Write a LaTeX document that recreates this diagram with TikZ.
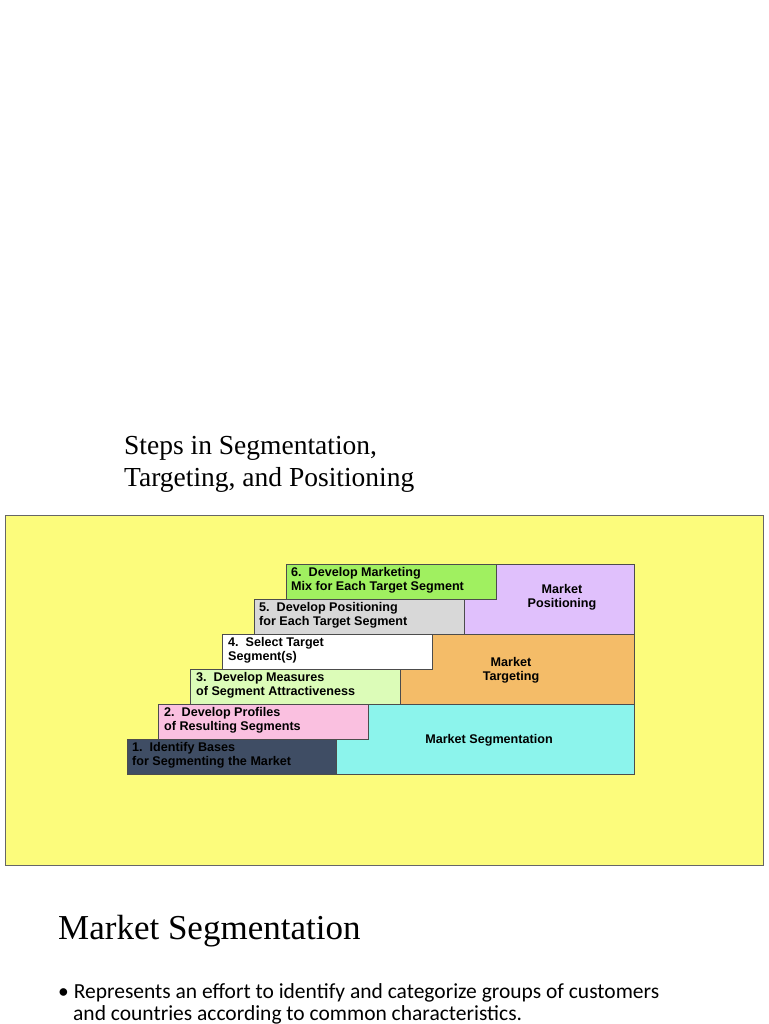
\documentclass[tikz,border=0pt]{standalone}
\usepackage{fontspec}
\newfontfamily\arialf{Liberation Sans}
\newfontfamily\timesf{Liberation Serif}
\newfontfamily\calf{Carlito}
\definecolor{yel}{HTML}{FCFC7C}
\definecolor{navy}{HTML}{3F4D64}
\definecolor{pinkc}{HTML}{FAC0E0}
\definecolor{lgreen}{HTML}{DCFCB8}
\definecolor{lgrey}{HTML}{D8D8D8}
\definecolor{gre}{HTML}{A0F060}
\definecolor{cyanc}{HTML}{8CF4EC}
\definecolor{oran}{HTML}{F4BC68}
\definecolor{lav}{HTML}{E0C0FC}
\tikzset{x=1pt,y=-1pt,
 stepbox/.style={draw=black!70,line width=0.8pt},
 steptxt/.style={font=\arialf\bfseries\fontsize{12.6}{14}\selectfont,anchor=north west,align=left,inner sep=0pt},
 areatxt/.style={font=\arialf\bfseries\fontsize{12.6}{14}\selectfont,align=center,inner sep=0pt}}
\begin{document}
\begin{tikzpicture}
\useasboundingbox (0,0) rectangle (768,1024);
\clip (0,0) rectangle (768,1024);
\fill[white] (0,0) rectangle (768,1024);
\node[anchor=north west,align=left,inner sep=0pt,font=\timesf\fontsize{27.5}{32}\selectfont] (title) at (124,436) {Steps in Segmentation,\\Targeting, and Positioning};
\draw[fill=yel,draw=black!60,line width=0.6pt] (5,515) rectangle (763,865);
% areas
\draw[stepbox,fill=cyanc] (336,704) rectangle (634,774);
\draw[stepbox,fill=oran] (400,634) rectangle (634,704);
\draw[stepbox,fill=lav] (464,564) rectangle (634,634);
\node[areatxt] (ms) at (489,740) {Market Segmentation};
\node[areatxt] (mt) at (511,670) {Market\\Targeting};
\node[areatxt] (mp) at (562,597) {Market\\Positioning};
% steps
\draw[stepbox,fill=navy] (127,739) rectangle (336,774);
\draw[stepbox,fill=pinkc] (158,704) rectangle (368,739);
\draw[stepbox,fill=lgreen] (190,669) rectangle (400,704);
\draw[stepbox,fill=white] (222,634) rectangle (432,669);
\draw[stepbox,fill=lgrey] (254,599) rectangle (464,634);
\draw[stepbox,fill=gre] (286,564) rectangle (496,599);
\node[steptxt] (s1) at (132,742) {1.\ \ Identify Bases\\for Segmenting the Market};
\node[steptxt] (s2) at (164,707) {2.\ \ Develop Profiles\\of Resulting Segments};
\node[steptxt] (s3) at (196,672) {3.\ \ Develop Measures\\of Segment Attractiveness};
\node[steptxt] (s4) at (228,637) {4.\ \ Select Target\\Segment(s)};
\node[steptxt] (s5) at (259,602) {5.\ \ Develop Positioning\\for Each Target Segment};
\node[steptxt] (s6) at (291,567) {6.\ \ Develop Marketing\\Mix for Each Target Segment};
\node[anchor=west,inner sep=0pt,font=\timesf\fontsize{35}{40}\selectfont] (h) at (58,931) {Market Segmentation};
\node[anchor=north west,align=left,inner sep=0pt,font=\calf\fontsize{21.5}{22}\selectfont] (b) at (58,983) {\textbullet\ Represents an effort to identify and categorize groups of customers\\\hspace*{15pt}and countries according to common characteristics.};
\end{tikzpicture}
\end{document}
